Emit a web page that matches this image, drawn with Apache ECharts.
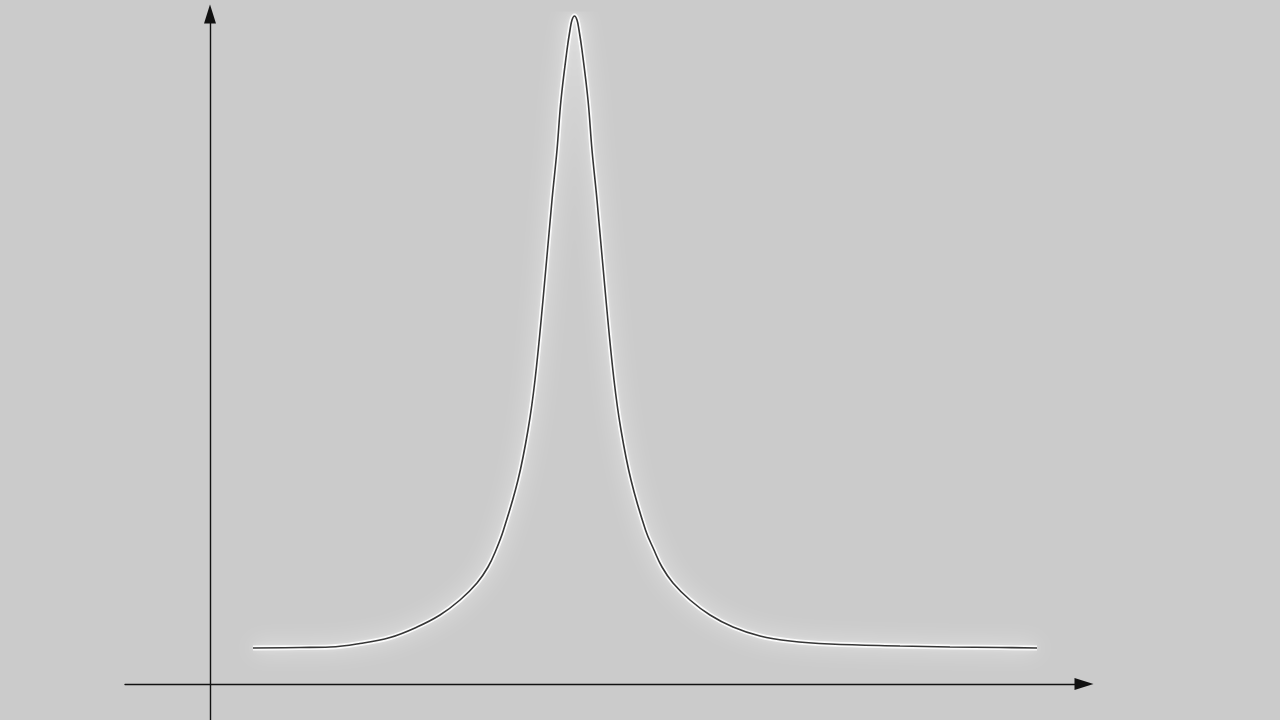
<!DOCTYPE html>
<html>
<head>
<meta charset="utf-8">
<script src="https://cdn.jsdelivr.net/npm/echarts@6/dist/echarts.min.js"></script>
<style>
html,body{margin:0;padding:0;background:#cbcbcb;}
#chart{width:1280px;height:720px;}
</style>
</head>
<body>
<div id="chart"></div>
<script>
// x positions and curve heights (arbitrary units, y-axis at x=0, x-axis at y=0)
const xValues = [0.43,0.90,1.20,1.50,1.80,2.07,2.30,2.50,2.67,2.78,2.86,2.935,3.08,3.18,3.25,3.33,3.42,3.47,3.51,3.57,3.60,3.62,3.645,
                 3.67,3.69,3.72,3.78,3.82,3.87,3.96,4.04,4.11,4.21,4.355,4.44,4.52,4.63,4.80,5.00,5.23,5.50,5.80,6.20,6.90,7.40,7.90,8.27];
const yValues = [0.36,0.365,0.37,0.405,0.465,0.57,0.69,0.84,1.01,1.17,1.34,1.54,2.04,2.54,3.04,3.84,4.84,5.34,5.84,6.34,6.54,6.64,6.68,
                 6.64,6.54,6.34,5.84,5.34,4.84,3.84,3.04,2.54,2.04,1.54,1.34,1.17,1.01,0.84,0.69,0.57,0.48,0.43,0.40,0.38,0.37,0.365,0.36];

const data = xValues.map((x, i) => [x, yValues[i]]);
const chart = echarts.init(document.getElementById('chart'));
const axisLineStyle = {color: '#111', width: 1.4};
chart.setOption({
  backgroundColor: '#cbcbcb',
  animation: false,
  grid: {left: 125, right: 196, top: 14, bottom: 0},
  xAxis: {
    type: 'value', min: -0.85, max: 8.74,
    axisLine: {onZero: true, symbol: ['none', 'triangle'], symbolSize: [12, 19], lineStyle: axisLineStyle},
    axisTick: {show: false}, axisLabel: {show: false}, splitLine: {show: false}
  },
  yAxis: {
    type: 'value', min: -0.36, max: 6.70,
    axisLine: {show: true, onZero: true, symbol: ['none', 'triangle'], symbolSize: [12, 19], lineStyle: axisLineStyle},
    axisTick: {show: false}, axisLabel: {show: false}, splitLine: {show: false}
  },
  series: [{
    type: 'line',
    data: data,
    smooth: 0.4,
    showSymbol: false,
    silent: true,
    z: 1,
    lineStyle: {color: 'rgba(255,255,255,0.9)', width: 5, shadowColor: '#ffffff', shadowBlur: 22}
  }, {
    type: 'line',
    data: data,
    smooth: 0.4,
    showSymbol: false,
    z: 2,
    lineStyle: {color: '#363636', width: 1.6, shadowColor: '#ffffff', shadowBlur: 6}
  }]
});
</script>
</body>
</html>
